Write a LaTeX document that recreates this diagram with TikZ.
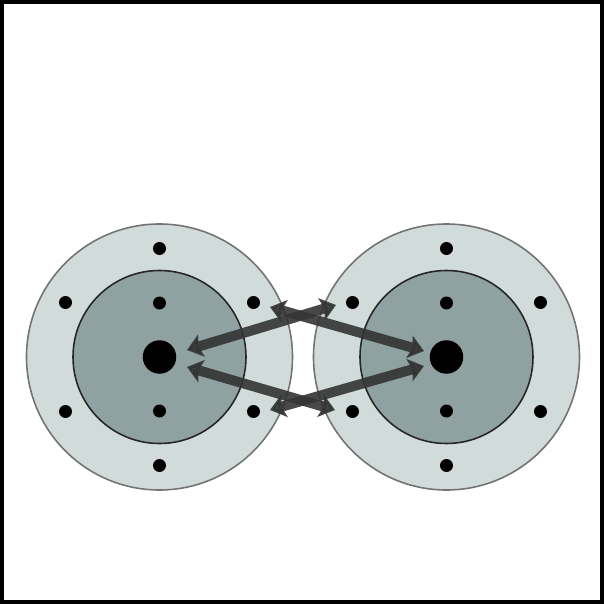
\documentclass[tikz,border=0pt]{standalone}
\usetikzlibrary{arrows.meta}
\definecolor{ringlight}{RGB}{208,219,218}
\definecolor{ringdark}{RGB}{143,161,160}
\definecolor{linkgray}{RGB}{52,52,52}

\begin{document}
\begin{tikzpicture}[
  outer/.style={circle,draw=black!55,line width=0.9pt,fill=ringlight,minimum size=5.32cm,inner sep=0pt},
  inner/.style={circle,draw=black!85,line width=0.9pt,fill=ringdark,minimum size=3.46cm,inner sep=0pt},
  dot/.style={circle,fill=black,minimum size=0.26cm,inner sep=0pt},
  hub/.style={circle,fill=black,minimum size=0.67cm,inner sep=0pt},
  link/.style={{Stealth[length=0.3cm,width=0.46cm,inset=0.06cm]}-{Stealth[length=0.3cm,width=0.46cm,inset=0.06cm]},line width=0.2cm,draw=linkgray,opacity=0.9}
]
  \useasboundingbox (0,0) rectangle (12.08,12.08);
  \draw[line width=0.08cm] (0.04,0.04) rectangle (12.04,12.04);

  % left wheel
  \node [outer] (LO) at (3.19,4.94) {};
  \node [inner] (LI) at (3.19,4.94) {};
  \node [hub] (LH) at (3.19,4.94) {};
  \node [dot] (LT2) at (3.19,7.11) {};
  \node [dot] (LT1) at (3.19,6.02) {};
  \node [dot] (LB1) at (3.19,3.86) {};
  \node [dot] (LB2) at (3.19,2.77) {};
  \node [dot] (LWT) at (1.31,6.03) {};
  \node [dot] (LWB) at (1.31,3.85) {};
  \node [dot] (LET) at (5.07,6.03) {};
  \node [dot] (LEB) at (5.07,3.85) {};

  % right wheel
  \node [outer] (RO) at (8.93,4.94) {};
  \node [inner] (RI) at (8.93,4.94) {};
  \node [hub] (RH) at (8.93,4.94) {};
  \node [dot] (RT2) at (8.93,7.11) {};
  \node [dot] (RT1) at (8.93,6.02) {};
  \node [dot] (RB1) at (8.93,3.86) {};
  \node [dot] (RB2) at (8.93,2.77) {};
  \node [dot] (RWT) at (7.05,6.03) {};
  \node [dot] (RWB) at (7.05,3.85) {};
  \node [dot] (RET) at (10.81,6.03) {};
  \node [dot] (REB) at (10.81,3.85) {};

  % crossing links
  \coordinate (A1) at (3.74,5.08);
  \coordinate (B1) at (6.72,5.98);
  \coordinate (A2) at (5.40,5.94);
  \coordinate (B2) at (8.48,5.06);
  \coordinate (A3) at (3.74,4.74);
  \coordinate (B3) at (6.70,3.88);
  \coordinate (A4) at (5.40,3.88);
  \coordinate (B4) at (8.48,4.76);
  \draw [link] (A1) -- (B1);
  \draw [link] (A2) -- (B2);
  \draw [link] (A3) -- (B3);
  \draw [link] (A4) -- (B4);
\end{tikzpicture}
\end{document}
